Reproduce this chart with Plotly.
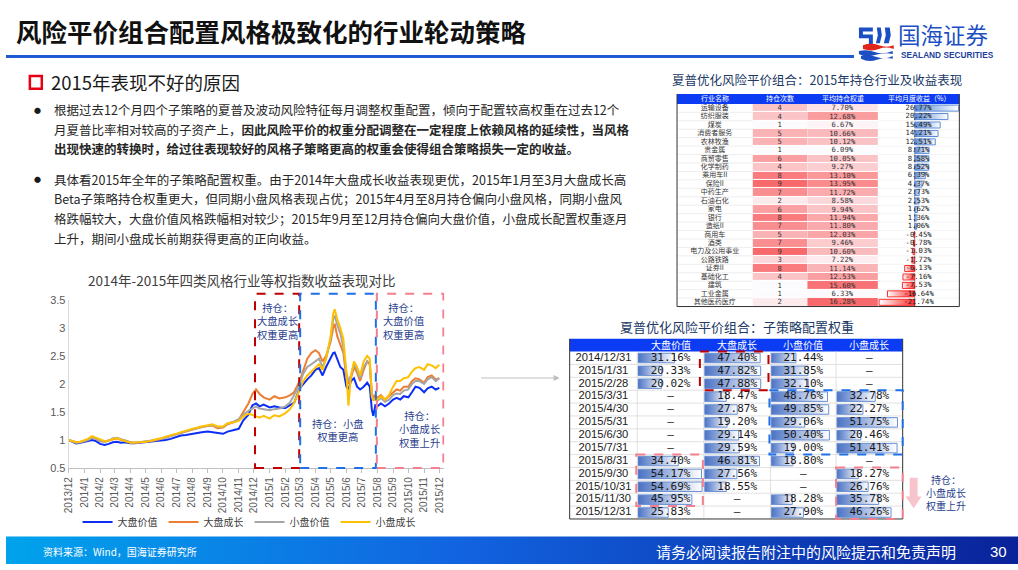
import plotly.graph_objects as go

W, H = 1018, 570

# ---------------- line chart data ----------------
dates = [
    "2013-12-01", "2013-12-08", "2013-12-16", "2013-12-24", "2014-01-01", "2014-01-08", "2014-01-16",
    "2014-01-24", "2014-02-01", "2014-02-10", "2014-02-18", "2014-02-26", "2014-03-06", "2014-03-14",
    "2014-03-22", "2014-04-01", "2014-04-10", "2014-04-20", "2014-05-01", "2014-05-10", "2014-05-20",
    "2014-06-01", "2014-06-10", "2014-06-20", "2014-07-01", "2014-07-10", "2014-07-20", "2014-08-01",
    "2014-08-10", "2014-08-20", "2014-09-01", "2014-09-10", "2014-09-20", "2014-10-01", "2014-10-10",
    "2014-10-20", "2014-11-01", "2014-11-10", "2014-11-20", "2014-11-28", "2014-12-05", "2014-12-12",
    "2014-12-20", "2015-01-01", "2015-01-10", "2015-01-20", "2015-02-01", "2015-02-10", "2015-02-18",
    "2015-03-01", "2015-03-08", "2015-03-16", "2015-03-24", "2015-04-01", "2015-04-08", "2015-04-15",
    "2015-04-22", "2015-05-01", "2015-05-06", "2015-05-09", "2015-05-14", "2015-05-20", "2015-05-26",
    "2015-06-01", "2015-06-05", "2015-06-10", "2015-06-16", "2015-06-22", "2015-06-28", "2015-07-05",
    "2015-07-12", "2015-07-17", "2015-07-21", "2015-07-24", "2015-07-28", "2015-08-01", "2015-08-08",
    "2015-08-16", "2015-08-24", "2015-09-01", "2015-09-08", "2015-09-15", "2015-09-22", "2015-10-01",
    "2015-10-08", "2015-10-15", "2015-10-23", "2015-11-01", "2015-11-08", "2015-11-16", "2015-11-24",
    "2015-12-01",
]
big_value = [
    1.00, 0.97, 0.94, 0.95, 0.96, 0.98, 1.00, 0.98, 0.93, 0.91, 0.93, 0.96, 0.97, 0.95,
    0.96, 0.94, 0.94, 0.95, 0.95, 0.96, 0.97, 0.98, 1.00, 1.02, 1.05, 1.08, 1.09, 1.11,
    1.13, 1.14, 1.15, 1.14, 1.12, 1.11, 1.15, 1.17, 1.20, 1.35, 1.45, 1.62, 1.65, 1.60,
    1.63, 1.58, 1.60, 1.58, 1.57, 1.62, 1.66, 1.92, 2.00, 2.08, 2.15, 2.25, 2.28, 2.15,
    2.30, 2.45, 2.55, 2.56, 2.45, 2.30, 2.25, 1.95, 1.90, 2.05, 2.10, 1.95, 1.90, 1.95,
    2.02, 1.95, 1.55, 1.43, 1.62, 1.60, 1.65, 1.60, 1.65, 1.72, 1.75, 1.72, 1.78, 1.76,
    1.85, 1.95, 1.93, 1.85, 1.92, 1.95, 1.90, 1.93,
]
big_growth = [
    1.00, 0.98, 0.96, 0.96, 0.98, 1.01, 1.05, 1.02, 0.98, 0.97, 0.99, 1.02, 1.03, 1.00,
    0.99, 0.96, 0.95, 0.96, 0.97, 0.98, 0.99, 1.02, 1.05, 1.07, 1.10, 1.13, 1.15, 1.18,
    1.21, 1.23, 1.25, 1.26, 1.21, 1.22, 1.28, 1.31, 1.36, 1.50, 1.65, 1.82, 1.90, 1.82,
    1.76, 1.72, 1.78, 1.74, 1.76, 1.80, 1.85, 2.05, 2.25, 2.45, 2.55, 2.60, 2.55, 2.40,
    2.50, 2.75, 3.00, 3.07, 2.85, 2.70, 2.55, 2.10, 2.00, 2.10, 2.30, 2.20, 2.05, 2.25,
    2.40, 2.35, 1.85, 1.75, 1.80, 1.75, 1.80, 1.72, 1.78, 1.85, 1.90, 1.88, 1.95, 1.95,
    2.05, 2.10, 2.08, 2.02, 2.12, 2.15, 2.08, 2.10,
]
small_value = [
    1.00, 0.98, 0.95, 0.96, 0.98, 1.00, 1.04, 1.02, 0.98, 0.97, 0.99, 1.03, 1.04, 1.01,
    0.99, 0.96, 0.95, 0.96, 0.97, 0.98, 1.00, 1.02, 1.05, 1.07, 1.10, 1.13, 1.16, 1.19,
    1.21, 1.23, 1.26, 1.27, 1.23, 1.23, 1.29, 1.32, 1.37, 1.45, 1.52, 1.57, 1.60, 1.56,
    1.55, 1.53, 1.55, 1.56, 1.60, 1.67, 1.80, 2.00, 2.18, 2.30, 2.35, 2.40, 2.45, 2.30,
    2.45, 2.80, 3.15, 3.22, 3.05, 2.90, 2.65, 2.20, 2.05, 2.15, 2.35, 2.25, 2.10, 2.30,
    2.40, 2.38, 1.80, 1.72, 1.72, 1.70, 1.75, 1.68, 1.72, 1.80, 1.83, 1.82, 1.88, 1.90,
    2.00, 2.05, 2.05, 2.00, 2.08, 2.12, 2.05, 2.10,
]
small_growth = [
    1.00, 0.98, 0.96, 0.97, 0.99, 1.02, 1.07, 1.04, 1.00, 0.98, 0.99, 1.02, 1.03, 1.00,
    0.98, 0.95, 0.95, 0.96, 0.97, 0.98, 1.01, 1.03, 1.06, 1.08, 1.11, 1.14, 1.17, 1.20,
    1.22, 1.24, 1.27, 1.28, 1.24, 1.24, 1.30, 1.31, 1.34, 1.42, 1.47, 1.45, 1.42, 1.40,
    1.43, 1.38, 1.44, 1.42, 1.48, 1.55, 1.66, 1.90, 2.05, 2.15, 2.22, 2.30, 2.35, 2.25,
    2.45, 2.85, 3.25, 3.33, 3.15, 3.00, 2.80, 2.20, 1.61, 2.15, 2.40, 2.30, 2.15, 2.40,
    2.50, 2.45, 1.78, 1.70, 1.75, 1.72, 1.78, 1.72, 1.80, 1.95, 2.05, 2.05, 2.10, 2.12,
    2.22, 2.28, 2.30, 2.25, 2.35, 2.33, 2.28, 2.34,
]
series_names = ["大盘价值", "大盘成长", "小盘价值", "小盘成长"]
series_colors = ["#0A2EF5", "#ED7D31", "#A5A5A5", "#FFC000"]
month_labels = ["2013/12", "2014/1", "2014/2", "2014/3", "2014/4", "2014/5", "2014/6", "2014/7",
                "2014/8", "2014/9", "2014/10", "2014/11", "2014/12", "2015/1", "2015/2", "2015/3",
                "2015/4", "2015/5", "2015/6", "2015/7", "2015/8", "2015/9", "2015/10", "2015/11",
                "2015/12"]

# ---------------- top-right table ----------------
industries = ["运输设备", "纺织服装", "煤炭", "消费者服务", "农林牧渔", "贵金属", "商贸零售", "化学制药",
              "乘用车II", "保险II", "中药生产", "石油石化", "家电", "银行", "造纸II", "商用车", "酒类",
              "电力及公用事业", "公路铁路", "证券II", "基础化工", "建筑", "工业金属", "其他医药医疗"]
hold_counts = [4, 4, 1, 5, 5, 1, 6, 4, 8, 9, 7, 2, 6, 8, 7, 5, 7, 9, 3, 8, 4, 1, 1, 2]
avg_weights = [7.70, 12.68, 6.67, 10.66, 10.12, 6.09, 10.05, 9.27, 13.10, 13.95, 11.72, 8.58, 9.94,
               11.94, 11.80, 12.03, 9.46, 10.60, 7.22, 11.14, 12.53, 15.60, 6.33, 16.28]
avg_returns = [26.77, 20.22, 15.49, 14.21, 12.51, 8.71, 8.58, 8.52, 6.39, 4.37, 2.73, 2.53, 1.62,
               1.36, 1.06, -0.45, -0.78, -1.03, -1.72, -6.13, -7.16, -7.53, -16.64, -21.74]
top_headers = ["行业名称", "持仓次数", "平均持仓权重", "平均月度收益（%）"]

# ---------------- bottom-right table ----------------
rebalance_dates = ["2014/12/31", "2015/1/31", "2015/2/28", "2015/3/31", "2015/4/30", "2015/5/31",
                   "2015/6/30", "2015/7/31", "2015/8/31", "2015/9/30", "2015/10/31", "2015/11/30",
                   "2015/12/31"]
style_names = ["大盘价值", "大盘成长", "小盘价值", "小盘成长"]
w_big_value = [31.16, 20.33, 20.02, None, None, None, None, None, 34.40, 54.17, 54.69, 45.95, 25.83]
w_big_growth = [47.40, 47.82, 47.88, 18.47, 27.87, 19.20, 29.14, 29.59, 46.81, 27.56, 18.55, None, None]
w_small_value = [21.44, 31.85, 32.10, 48.76, 49.85, 29.06, 50.40, 19.00, 18.80, None, None, 18.28, 27.90]
w_small_growth = [None, None, None, 32.78, 22.27, 51.75, 20.46, 51.41, None, 18.27, 26.76, 35.78, 46.26]
style_weights = [w_big_value, w_big_growth, w_small_value, w_small_growth]

# ---------------- helpers ----------------
CJK = "Noto Sans CJK SC"
MONO = "DejaVu Sans Mono"
ANNO_BLUE = "#2B3F90"


def px(x):
    return x / W


def py(y):
    return 1 - y / H


fig = go.Figure()
annotations = []
shapes = []


def text(x, y, s, size, color="#262626", xanchor="left", family=CJK, yanchor="middle", align="center"):
    annotations.append(dict(x=px(x), y=py(y), xref="paper", yref="paper", text=s, showarrow=False,
                            xanchor=xanchor, yanchor=yanchor, align=align,
                            font=dict(size=size, color=color, family=family)))


def pshape(**kw):
    d = dict(xref="x11", yref="y4")
    d.update(kw)
    shapes.append(d)


# ---------------- line chart ----------------
for name, col, vals in zip(series_names, series_colors,
                           [big_value, big_growth, small_value, small_growth]):
    fig.add_trace(go.Scatter(x=dates, y=vals, name=name, mode="lines",
                             line=dict(color=col, width=2), xaxis="x", yaxis="y"))

tickvals = ["%s-%02d-01" % (s.split("/")[0], int(s.split("/")[1])) for s in month_labels]

text(237, 280, "2014年-2015年四类风格行业等权指数收益表现对比", 13.5, "#404040", "center")

# style-period dashed boxes (x in dates)
for x0, x1, col in [("2014-12-03", "2015-02-28", "#C00000"),
                    ("2015-03-02", "2015-07-29", "#1F6FE8"),
                    ("2015-07-31", "2015-12-09", "#F4808F")]:
    shapes.append(dict(type="rect", xref="x", yref="paper", x0=x0, x1=x1, y0=py(472), y1=py(294),
                       line=dict(color=col, width=2, dash="dash"), fillcolor="rgba(0,0,0,0)"))

for (x, y, s) in [(273, 322, "持仓：<br>大盘成长<br>权重更高"),
                  (333, 433, "持仓：小盘<br>权重更高"),
                  (400, 322, "持仓：<br>大盘价值<br>权重更高"),
                  (416, 432, "持仓：<br>小盘成长<br>权重上升")]:
    text(x, y, s, 10.3, ANNO_BLUE, "center")

# ---------------- top-right table ----------------
T_L, T_C1, T_C2, T_C3, T_R = 675, 751, 806, 877, 959
T_TOP, T_HB, T_BOT = 90, 100, 307
n_top = len(industries)
rows_top = list(range(n_top))

text(816, 75, "夏普优化风险平价组合：2015年持仓行业及收益表现", 12.5, "#203864", "center")
pshape(type="rect", x0=T_L, x1=T_R, y0=T_TOP, y1=T_HB, fillcolor="#0B3BF2", line=dict(width=0))
for (a, b), s in zip([(T_L, T_C1), (T_C1, T_C2), (T_C2, T_C3), (T_C3, T_R)], top_headers):
    text((a + b) / 2, 94, s, 7, "white", "center")

fig.add_trace(go.Scatter(x=[0.5] * n_top, y=rows_top, mode="text", text=industries,
                         textfont=dict(size=7, color="#333333", family=CJK),
                         xaxis="x2", yaxis="y2", showlegend=False, hoverinfo="skip", cliponaxis=False))
fig.add_trace(go.Heatmap(x=[0], y=rows_top, z=[[v] for v in hold_counts],
                         text=[[str(v)] for v in hold_counts], texttemplate="%{text}",
                         textfont=dict(size=7.2, color="#333333", family=MONO),
                         colorscale=[[0, "#FCFCFF"], [1, "#F8696B"]], showscale=False, ygap=1,
                         xaxis="x3", yaxis="y2", hoverinfo="skip"))
fig.add_trace(go.Heatmap(x=[0], y=rows_top, z=[[v] for v in avg_weights],
                         text=[["%.2f%%" % v] for v in avg_weights], texttemplate="%{text}",
                         textfont=dict(size=7.2, color="#333333", family=MONO),
                         colorscale=[[0, "#FCFCFF"], [1, "#F8696B"]], showscale=False, ygap=1,
                         xaxis="x4", yaxis="y2", hoverinfo="skip"))
RET_RANGE = [-22.5, 27.2]
for i, v in enumerate(avg_returns):
    hh = 0.36
    if v >= 0:
        cs = [[0, "#5B8BD6"], [1, "#FFFFFF"]]
        lc = "#5B8BD6"
    else:
        cs = [[0, "#FFFFFF"], [1, "#FF2A2A"]]
        lc = "#FF2A2A"
    fig.add_trace(go.Scatter(x=[0, v, v, 0, 0], y=[i - hh, i - hh, i + hh, i + hh, i - hh],
                             fill="toself", mode="lines", line=dict(color=lc, width=1),
                             fillgradient=dict(type="horizontal", colorscale=cs),
                             xaxis="x5", yaxis="y2", showlegend=False, hoverinfo="skip"))
fig.add_trace(go.Scatter(x=[sum(RET_RANGE) / 2] * n_top, y=rows_top, mode="text",
                         text=["%.2f%%" % v for v in avg_returns],
                         textfont=dict(size=7.2, color="#222222", family=MONO),
                         xaxis="x5", yaxis="y2", showlegend=False, hoverinfo="skip", cliponaxis=False))
shapes.append(dict(type="line", xref="x5", yref="paper", x0=0, x1=0, y0=py(T_BOT), y1=py(T_HB),
                   line=dict(color="#333333", width=0.8, dash="dot")))
row_h_top = (T_BOT - T_HB) / n_top
for i in range(1, n_top):
    yy = T_HB + i * row_h_top
    pshape(type="line", x0=T_L, x1=T_C1, y0=yy, y1=yy, line=dict(color="#E3E3E3", width=0.6))
    pshape(type="line", x0=T_C3, x1=T_R, y0=yy, y1=yy, line=dict(color="#EDEDED", width=0.6))
for xx in [T_L, T_R]:
    pshape(type="line", x0=xx, x1=xx, y0=T_TOP, y1=T_BOT, line=dict(color="#333333", width=1))
pshape(type="line", x0=T_L, x1=T_R, y0=T_BOT, y1=T_BOT, line=dict(color="#333333", width=1))

# ---------------- bottom-right table ----------------
B_COLS = [567, 635, 702, 769, 835, 902]
B_TOP, B_HB, B_BOT = 340, 353, 524
n_b = len(rebalance_dates)
rows_b = list(range(n_b))
row_h_b = (B_BOT - B_HB) / n_b

text(735, 327, "夏普优化风险平价组合：子策略配置权重", 13, "#203864", "center")
pshape(type="rect", x0=B_COLS[0], x1=B_COLS[-1], y0=B_TOP, y1=B_HB, fillcolor="#0B3BF2", line=dict(width=0))
for j, s in enumerate(style_names):
    text((B_COLS[j + 1] + B_COLS[j + 2]) / 2, (B_TOP + B_HB) / 2 - 0.5, s, 10, "white", "center")

fig.add_trace(go.Scatter(x=[0.5] * n_b, y=rows_b, mode="text", text=rebalance_dates,
                         textfont=dict(size=11.2, color="#1A1A1A", family="Liberation Sans"),
                         xaxis="x6", yaxis="y3", showlegend=False, hoverinfo="skip", cliponaxis=False))
W_RANGE = [-0.6, 56.2]
for j, vals in enumerate(style_weights):
    ax = "x%d" % (7 + j)
    for i, v in enumerate(vals):
        if v is None:
            continue
        hh = 0.37
        fig.add_trace(go.Scatter(x=[0, v, v, 0, 0], y=[i - hh, i - hh, i + hh, i + hh, i - hh],
                                 fill="toself", mode="lines", line=dict(color="#6A90D4", width=1),
                                 fillgradient=dict(type="horizontal",
                                                   colorscale=[[0, "#4A72C4"], [1, "#FFFFFF"]]),
                                 xaxis=ax, yaxis="y3", showlegend=False, hoverinfo="skip"))
    fig.add_trace(go.Scatter(x=[sum(W_RANGE) / 2] * n_b, y=rows_b, mode="text",
                             text=["%.2f%%" % v if v is not None else "–" for v in vals],
                             textfont=dict(size=11, color="#1A1A1A", family=MONO),
                             xaxis=ax, yaxis="y3", showlegend=False, hoverinfo="skip", cliponaxis=False))

for i in range(1, n_b):
    yy = B_HB + i * row_h_b
    pshape(type="line", x0=B_COLS[0], x1=B_COLS[-1], y0=yy, y1=yy, line=dict(color="#D9D9D9", width=0.8))
for xx in B_COLS[1:-1]:
    pshape(type="line", x0=xx, x1=xx, y0=B_HB, y1=B_BOT, line=dict(color="#D9D9D9", width=0.8))
for xx in [B_COLS[0], B_COLS[-1]]:
    pshape(type="line", x0=xx, x1=xx, y0=B_TOP, y1=B_BOT, line=dict(color="#333333", width=1))
pshape(type="line", x0=B_COLS[0], x1=B_COLS[-1], y0=B_BOT, y1=B_BOT, line=dict(color="#333333", width=1))

# holding-period boxes on the table (rows from the table grid)
for (x0, x1, r0, r1, col) in [(698, 767, 0, 3, "#C00000"), (768, 902, 3, 8, "#1F6FE8"),
                              (634, 701, 8, 12, "#F4808F"), (835, 902, 9, 13, "#F4808F")]:
    pshape(type="rect", x0=x0, x1=x1, y0=B_HB + r0 * row_h_b, y1=B_HB + r1 * row_h_b,
           line=dict(color=col, width=2, dash="dash"), fillcolor="rgba(0,0,0,0)")

# pink down arrow + note
pshape(type="path", path="M909,482 L917,482 L917,501 L921,501 L913,513 L905,501 L909,501 Z",
       fillcolor="#F7C3CC", line=dict(width=0))
text(946, 497, "持仓：<br>小盘成长<br>权重上升", 10, ANNO_BLUE, "center")

# connector arrow from chart to table
annotations.append(dict(x=px(557), y=py(380), xref="paper", yref="paper", text="", showarrow=True,
                        ax=-80, ay=0, arrowhead=2, arrowsize=1, arrowwidth=1.2, arrowcolor="#BFBFBF"))

# ---------------- slide header / text ----------------
text(8, 25, "<b>风险平价组合配置风格极致化的行业轮动策略</b>", 25.5, "#111111")
pshape(type="rect", x0=0, x1=853, y0=50, y1=53, fillcolor="#1F5AD2", line=dict(width=0))

# logo
LOGO_BLUE = "#1D4FC4"
pshape(type="path", path="M858,22 L872,22 L872,26 L862,26 L862,29 L872,29 L872,39 L868,39 L868,33 L858,33 Z",
       fillcolor=LOGO_BLUE, line=dict(width=0))
pshape(type="path", path="M876,22 L880,22 L881,30 L879,38 L875,38 L877,30 Z", fillcolor=LOGO_BLUE, line=dict(width=0))
pshape(type="path", path="M884,22 L889,22 L890,30 L888,38 L883,38 L885,30 Z", fillcolor=LOGO_BLUE, line=dict(width=0))
pshape(type="path", path="M862,40 Q870,37 878,40 T893,40 L893,44 Q885,41 878,44 T862,44 Z",
       fillcolor="#E1251B", line=dict(width=0))
pshape(type="path", path="M858,46 Q866,44 874,47 T892,46 L892,49 Q884,47 874,50 T858,49 Z",
       fillcolor=LOGO_BLUE, line=dict(width=0))
pshape(type="path", path="M860,51 Q868,49 876,52 T892,51 L892,54 Q884,52 876,55 T860,54 Z",
       fillcolor=LOGO_BLUE, line=dict(width=0))
text(895, 28.5, "国海证券", 22.5, LOGO_BLUE)
text(898, 50, "<b>SEALAND SECURITIES</b>", 8.3, "#1D3E9C", family="Liberation Sans")

# section heading
pshape(type="rect", x0=24, x1=36, y0=71.5, y1=84.5, line=dict(color="#E60012", width=2.5),
       fillcolor="rgba(0,0,0,0)")
text(43, 78, "2015年表现不好的原因", 18.5, "#1A1A1A")

# bullet paragraphs
BODY = 12.5
for yb in [106, 177]:
    text(32, yb, "●", 7, "#1A1A1A", "center")
body_lines = [
    (106, "根据过去12个月四个子策略的夏普及波动风险特征每月调整权重配置，倾向于配置较高权重在过去12个"),
    (126, "月夏普比率相对较高的子资产上，<b>因此风险平价的权重分配调整在一定程度上依赖风格的延续性，当风格</b>"),
    (146, "<b>出现快速的转换时，给过往表现较好的风格子策略更高的权重会使得组合策略损失一定的收益。</b>"),
    (177, "具体看2015年全年的子策略配置权重。由于2014年大盘成长收益表现更优，2015年1月至3月大盘成长高"),
    (197, "Beta子策略持仓权重更大，但同期小盘风格表现占优；2015年4月至8月持仓偏向小盘风格，同期小盘风"),
    (217, "格跌幅较大，大盘价值风格跌幅相对较少；2015年9月至12月持仓偏向大盘价值，小盘成长配置权重逐月"),
    (237, "上升，期间小盘成长前期获得更高的正向收益。"),
]
for yb, s in body_lines:
    text(46, yb, s, BODY, "#262626")

# footer bar with gradient
fig.add_trace(go.Scatter(x=[0, W, W, 0, 0], y=[542, 542, H, H, 542], fill="toself", mode="lines",
                         line=dict(width=0, color="rgba(0,0,0,0)"),
                         fillgradient=dict(type="horizontal",
                                           colorscale=[[0, "#00A3EC"], [0.45, "#1263E0"], [1, "#0A2299"]]),
                         xaxis="x11", yaxis="y4", showlegend=False, hoverinfo="skip"))
text(35, 557, "资料来源：Wind，国海证券研究所", 10, "white")
text(652, 557, "请务必阅读报告附注中的风险提示和免责声明", 15, "white")
text(988, 557, "30", 15, "white", family="Liberation Sans")


# ---------------- layout ----------------
def hidden(domain, rng, anchor):
    return dict(domain=domain, range=rng, visible=False, fixedrange=True, anchor=anchor)


layout = dict(
    width=W, height=H, margin=dict(l=0, r=0, t=0, b=0),
    paper_bgcolor="white", plot_bgcolor="rgba(0,0,0,0)",
    font=dict(family=CJK, color="#262626"),
    showlegend=True,
    legend=dict(orientation="h", x=px(72), y=py(527), xanchor="left", yanchor="middle",
                font=dict(size=10, color="#404040", family=CJK), itemwidth=30,
                entrywidth=41, entrywidthmode="pixels",
                bgcolor="rgba(0,0,0,0)", tracegroupgap=0),
    xaxis=dict(domain=[px(63), px(441)], range=["2013-12-01", "2015-12-11"], type="date",
               tickvals=tickvals, ticktext=month_labels, tickangle=-90,
               tickfont=dict(size=10, color="#595959", family="Liberation Sans"),
               showgrid=False, zeroline=False, showline=True, linecolor="#BFBFBF", linewidth=1,
               ticks="outside", ticklen=4, tickcolor="#BFBFBF", anchor="y", fixedrange=True),
    yaxis=dict(domain=[py(472), py(300)], range=[0.5, 3.5], dtick=0.5,
               tickfont=dict(size=11, color="#595959", family="Liberation Sans"),
               showgrid=False, zeroline=False, showline=True, linecolor="#D9D9D9", linewidth=1,
               ticks="", anchor="x", fixedrange=True),
    xaxis2=hidden([px(T_L), px(T_C1)], [0, 1], "y2"),
    xaxis3=hidden([px(T_C1), px(T_C2)], [-0.5, 0.5], "y2"),
    xaxis4=hidden([px(T_C2), px(T_C3)], [-0.5, 0.5], "y2"),
    xaxis5=hidden([px(T_C3), px(T_R)], RET_RANGE, "y2"),
    yaxis2=hidden([py(T_BOT), py(T_HB)], [n_top - 0.5, -0.5], "x2"),
    xaxis6=hidden([px(B_COLS[0]), px(B_COLS[1])], [0, 1], "y3"),
    xaxis7=hidden([px(B_COLS[1]), px(B_COLS[2])], W_RANGE, "y3"),
    xaxis8=hidden([px(B_COLS[2]), px(B_COLS[3])], W_RANGE, "y3"),
    xaxis9=hidden([px(B_COLS[3]), px(B_COLS[4])], W_RANGE, "y3"),
    xaxis10=hidden([px(B_COLS[4]), px(B_COLS[5])], W_RANGE, "y3"),
    yaxis3=hidden([py(B_BOT), py(B_HB)], [n_b - 0.5, -0.5], "x6"),
    xaxis11=hidden([0, 1], [0, W], "y4"),
    yaxis4=hidden([0, 1], [H, 0], "x11"),
    annotations=annotations,
    shapes=shapes,
)
fig.update_layout(**layout)
fig.write_html("out.html", config={"displayModeBar": False},
               post_script="document.body.style.margin='0px';document.body.style.overflow='hidden';")
